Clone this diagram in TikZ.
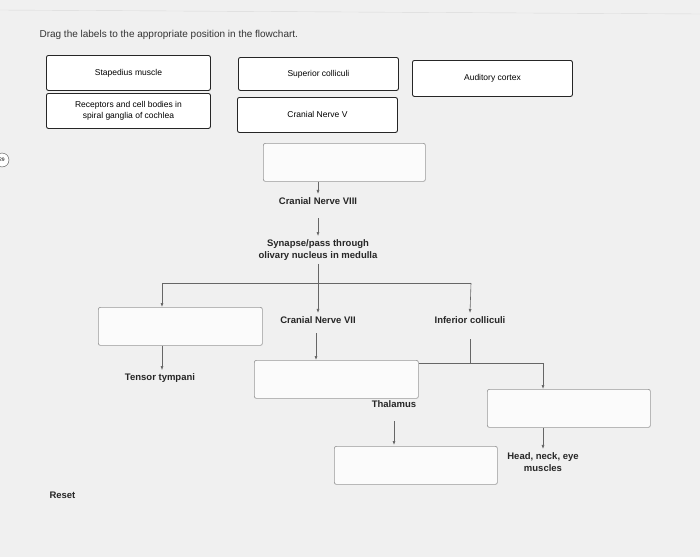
\documentclass[tikz,border=0pt]{standalone}
\usepackage{fontspec}
\setmainfont{Liberation Sans}
\usetikzlibrary{arrows.meta}
\begin{document}
\begin{tikzpicture}[x=1pt,y=-1pt,
  lab/.style={draw=black!85,rounded corners=2pt,line width=0.9pt,fill=white,font=\fontsize{8.5}{10.5}\selectfont,align=center,anchor=north west,inner sep=0pt},
  slot/.style={draw=black!40,rounded corners=2pt,line width=0.7pt,fill=white!60!gray!8,anchor=north west,inner sep=0pt},
  txt/.style={font=\bfseries\fontsize{9.5}{12}\selectfont,align=center,text=black!85},
  arr/.style={draw=black!60,line width=0.6pt,-{Latex[length=4pt,width=3pt]}},
  ln/.style={draw=black!60,line width=0.6pt}]
\fill[black!6] (0,0) rectangle (700,557);
\useasboundingbox (0,0) rectangle (700,557);
\draw[black!15] (0,10) -- (700,14);
\node[anchor=west,font=\fontsize{10}{12}\selectfont,text=black!80] (title) at (36,35) {Drag the labels to the appropriate position in the flowchart.};
\node[draw=black!70,circle,fill=white,font=\tiny,minimum size=14pt,inner sep=0pt] (num) at (2,160) {29};
% labels
\node[lab,minimum width=164pt,minimum height=35pt] (sta) at (46,55) {Stapedius muscle};
\node[lab,minimum width=160pt,minimum height=33pt] (sup) at (238,57) {Superior colliculi};
\node[lab,minimum width=160pt,minimum height=36pt] (aud) at (412,60) {Auditory cortex};
\node[lab,minimum width=164pt,minimum height=35pt] (rec) at (46,93) {Receptors and cell bodies in\\spiral ganglia of cochlea};
\node[lab,minimum width=160pt,minimum height=35pt] (cn5) at (237,97) {Cranial Nerve V};
% flowchart
\node[slot,minimum width=162pt,minimum height=38pt] (s1) at (263,143) {};
\node[txt] (cn8) at (318,201) {Cranial Nerve VIII};
\node[txt] (syn) at (318,250) {Synapse/pass through\\olivary nucleus in medulla};
\node[slot,minimum width=164pt,minimum height=38pt] (s2) at (98,307) {};
\node[txt] (cn7) at (318,320) {Cranial Nerve VII};
\node[txt] (inf) at (470,320) {Inferior colliculi};
\node[txt] (ten) at (160,378) {Tensor tympani};
\node[txt] (hea) at (543,462) {Head, neck, eye\\muscles};
\node[slot,minimum width=164pt,minimum height=38pt] (s3) at (254,360) {};
\node[txt] (tha) at (394,404) {Thalamus};
\node[slot,minimum width=163pt,minimum height=38pt] (s4) at (487,389) {};
\node[slot,minimum width=163pt,minimum height=38pt] (s5) at (334,446) {};
\node[txt,anchor=west] (res) at (46,495) {Reset};
\coordinate (j) at (318,283);
\coordinate (jl) at (162,283);
\coordinate (jr) at (471,283);
\coordinate (k) at (470,363);
\coordinate (kr) at (543,363);
\draw[arr] (s1.south -| cn8) -- (cn8.north);
\draw[arr] (cn8.south) ++(0,10) -- (syn.north);
\draw[ln] (syn.south) -- (j);
\draw[ln] (jl) -- (jr);
\draw[arr] (jl) -- (jl |- s2.north);
\draw[arr] (j) -- (cn7.north);
\draw[arr] (jr) -- (inf.north);
\draw[arr] (s2.south -| jl) -- (jl |- ten.north);
\draw[arr] (cn7.south) ++(-2,6) -- (316,360);
\draw[ln] (inf.south) ++(0,12) -- (k);
\draw[ln] (s3.east |- k) -- (kr);
\draw[arr] (kr) -- (kr |- s4.north);
\draw[arr] (s4.south -| kr) -- (kr |- hea.north);
\draw[arr] (tha.south) ++(0,10) -- (394,445);
\end{tikzpicture}
\end{document}
